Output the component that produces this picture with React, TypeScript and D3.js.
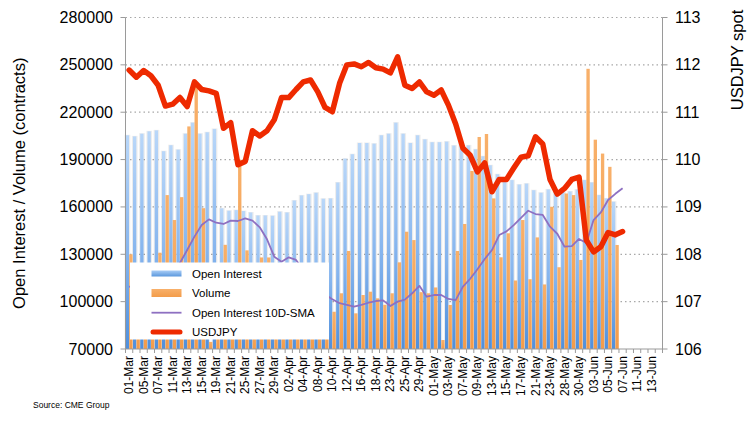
import React from "react";
import * as d3 from "d3";

const categories = [
  "01-Mar","04-Mar","05-Mar","06-Mar","07-Mar","08-Mar","11-Mar","12-Mar","13-Mar","14-Mar","15-Mar","18-Mar","19-Mar","20-Mar","21-Mar","22-Mar","25-Mar","26-Mar","27-Mar","28-Mar","29-Mar",
  "01-Apr","02-Apr","03-Apr","04-Apr","05-Apr","08-Apr","09-Apr","10-Apr","11-Apr","12-Apr","15-Apr","16-Apr","17-Apr","18-Apr","22-Apr","23-Apr","24-Apr","25-Apr","26-Apr","29-Apr","30-Apr",
  "01-May","02-May","03-May","06-May","07-May","08-May","09-May","10-May","13-May","14-May","15-May","16-May","17-May","20-May","21-May","22-May","23-May","24-May","28-May","29-May","30-May","31-May",
  "03-Jun","04-Jun","05-Jun","06-Jun","07-Jun","10-Jun","11-Jun","12-Jun","13-Jun","14-Jun"
];

const openInterest = [
  205400,204700,206400,207900,208500,195300,199100,196300,206400,213400,206400,207300,209400,
  159100,157600,158000,157400,156500,154600,154600,154400,157000,156500,164100,167300,168100,169000,165200,165400,
  175500,190600,193400,200500,200500,200100,205400,206400,213400,206400,200500,205400,202800,201000,201000,201400,198900,201200,
  199000,196500,192100,186400,180700,177400,177000,174200,174800,170600,169000,171100,169500,169500,169800,171000,
  177000,175500,167500,165400,163300
];

const volume = [
  130000,112000,118000,105000,131000,167500,151700,166200,211000,235900,159200,74500,96000,
  136000,112000,190000,132500,88000,128000,128000,104000,96000,110000,102000,90000,116000,99000,94000,
  93600,105300,132100,92600,104200,106300,102100,98000,105300,124900,144300,139000,106000,105300,109000,75700,97900,132100,149200,
  182800,204300,206200,165400,128100,143300,113400,151700,114200,140700,110900,160100,121800,168500,167500,126400,
  247500,202600,193800,185400,135900
];

const oiSma = [
  109500,109000,108500,108000,108500,110000,116000,124500,132700,141200,148500,152100,150000,
  149200,151300,151100,152800,151300,147100,139500,128500,125300,128100,126400,120000,114000,108000,104500,
  101500,99000,98000,96900,98000,99300,100400,100800,97200,100000,101300,105300,110000,103100,104200,104200,101700,101000,109500,
  114500,120500,127000,132700,142200,144500,148500,153000,157600,155500,154900,147500,143000,134800,135200,139700,
  137200,151700,156500,164400,168300,171800
];

const usdjpy = [
  111.89,111.74,111.88,111.77,111.57,111.13,111.17,111.31,111.12,111.64,111.48,111.45,111.40,
  110.66,110.78,109.89,109.96,110.61,110.50,110.61,110.84,111.31,111.31,111.48,111.64,111.68,111.43,111.10,
  111.01,111.61,112.00,112.02,111.96,112.05,111.94,111.91,111.83,112.17,111.57,111.50,111.64,111.43,111.36,111.47,111.15,110.75,110.24,
  110.09,109.74,109.93,109.32,109.58,109.58,109.82,110.05,110.08,110.48,110.33,109.58,109.27,109.39,109.58,109.63,
  108.30,108.05,108.16,108.46,108.41,108.48
];

const leftTicks = [70000, 100000, 130000, 160000, 190000, 220000, 250000, 280000];
const rightTicks = [106, 107, 108, 109, 110, 111, 112, 113];
const legendItems = ["Open Interest", "Volume", "Open Interest 10D-SMA", "USDJPY"];

const FONT = "'Liberation Sans', Arial, sans-serif";

export default function App() {
  const W = 751, H = 421;
  const left = 125.5, right = 662.5, top = 17.5, bottom = 349;

  const x = d3.scaleBand<string>().domain(categories).range([left, right]).padding(0);
  const yL = d3.scaleLinear().domain([70000, 280000]).range([bottom, top]);
  const yR = d3.scaleLinear().domain([106, 113]).range([bottom, top]);
  const bw = x.bandwidth();
  const cx = (i: number) => (x(categories[i]) as number) + bw / 2;
  const barW = bw * 0.46;

  const smaLine = d3.line<number>().x((_, i) => cx(i)).y((d) => yL(d));
  const fxLine = d3.line<number>().x((_, i) => cx(i)).y((d) => yR(d));

  const boundaries = d3.range(categories.length + 1).map((k) => left + k * bw);

  const legX = 130, legY = 262.5, legW = 199, legH = 77;
  const rowY = [273.5, 293, 312.7, 332];

  return (
    <svg width={W} height={H} style={{ position: "absolute", left: 0, top: 0, background: "#fff" }} fontFamily={FONT}>
      <defs>
        <linearGradient id="blueGrad" x1="0" y1="0" x2="0" y2="1">
          <stop offset="0%" stopColor="#b9d7f9" />
          <stop offset="55%" stopColor="#86b5ee" />
          <stop offset="100%" stopColor="#4f8fdc" />
        </linearGradient>
        <linearGradient id="orangeGrad" x1="0" y1="0" x2="0" y2="1">
          <stop offset="0%" stopColor="#f8b06a" />
          <stop offset="100%" stopColor="#f39c4a" />
        </linearGradient>
        <linearGradient id="blueLeg" x1="0" y1="0" x2="0" y2="1">
          <stop offset="0%" stopColor="#a9cdf6" />
          <stop offset="100%" stopColor="#5b98dd" />
        </linearGradient>
      </defs>

      {/* gridlines */}
      {leftTicks.slice(1).map((t) => (
        <line key={"g" + t} x1={left} x2={right} y1={yL(t)} y2={yL(t)} stroke="#a8a8a8" strokeWidth={1.2} strokeDasharray="1.5,3" />
      ))}

      {/* bar shadows */}
      {openInterest.map((v, i) => (
        <rect key={"bs" + i} x={cx(i) - barW - 1.2} y={yL(v) - 0.5} width={barW + 2.4} height={bottom - yL(v) + 0.5} fill="#000" opacity={0.07} />
      ))}
      {/* blue bars */}
      {openInterest.map((v, i) => (
        <rect key={"b" + i} x={cx(i) - barW - 0.1} y={yL(v)} width={barW} height={bottom - yL(v)} fill="url(#blueGrad)" />
      ))}
      {/* orange bars */}
      {volume.map((v, i) => (
        <rect key={"o" + i} x={cx(i) + 0.1} y={yL(v)} width={barW} height={bottom - yL(v)} fill="url(#orangeGrad)" />
      ))}

      {/* lines */}
      <path d={smaLine(oiSma) || ""} fill="none" stroke="#8e70c1" strokeWidth={1.8} strokeLinejoin="round" />
      <path d={fxLine(usdjpy) || ""} fill="none" stroke="#ee2a00" strokeWidth={5.5} strokeLinejoin="round" strokeLinecap="round" />

      {/* axes */}
      <line x1={left} x2={left} y1={top} y2={bottom} stroke="#9a9a9a" strokeWidth={1} />
      <line x1={right} x2={right} y1={top} y2={bottom} stroke="#9a9a9a" strokeWidth={1} />
      <line x1={left} x2={right} y1={bottom} y2={bottom} stroke="#9a9a9a" strokeWidth={1} />
      {boundaries.map((b, k) => (
        <line key={"xt" + k} x1={b} x2={b} y1={bottom} y2={bottom + 4} stroke="#9a9a9a" strokeWidth={1} />
      ))}
      {leftTicks.map((t) => (
        <g key={"lt" + t}>
          <line x1={left - 5} x2={left} y1={yL(t)} y2={yL(t)} stroke="#9a9a9a" />
          <text x={113} y={yL(t)} textAnchor="end" dominantBaseline="central" fontSize={16} fill="#000">{t}</text>
        </g>
      ))}
      {rightTicks.map((t) => (
        <g key={"rt" + t}>
          <line x1={right} x2={right + 5} y1={yR(t)} y2={yR(t)} stroke="#9a9a9a" />
          <text x={675} y={yR(t)} textAnchor="start" dominantBaseline="central" fontSize={16} fill="#000">{t}</text>
        </g>
      ))}

      {/* x labels */}
      {categories.map((c, i) =>
        i % 2 === 0 ? (
          <text key={"xl" + i} transform={`translate(${cx(i)},${bottom + 7}) rotate(-90)`} textAnchor="end" dominantBaseline="central" fontSize={12} fill="#000">{c}</text>
        ) : null
      )}

      {/* axis titles */}
      <text transform={`translate(19,${(top + bottom) / 2}) rotate(-90)`} textAnchor="middle" dominantBaseline="central" fontSize={16.5} fill="#000">Open Interest / Volume (contracts)</text>
      <text transform={`translate(737,60) rotate(-90)`} textAnchor="middle" dominantBaseline="central" fontSize={16.5} fill="#000">USDJPY spot</text>

      {/* source */}
      <text x={33} y={408} fontSize={8.5} fill="#000">Source: CME Group</text>

      {/* legend */}
      <rect x={legX} y={legY} width={legW} height={legH} fill="#fff" />
      <rect x={151.5} y={rowY[0] - 3} width={30} height={6} fill="url(#blueLeg)" />
      <rect x={151.5} y={rowY[1] - 4} width={30} height={8} fill="url(#orangeGrad)" />
      <line x1={151.5} x2={181.5} y1={rowY[2]} y2={rowY[2]} stroke="#8e70c1" strokeWidth={1.8} />
      <line x1={153} x2={180} y1={rowY[3]} y2={rowY[3]} stroke="#ee2a00" strokeWidth={5} strokeLinecap="round" />
      {legendItems.map((t, i) => (
        <text key={"lg" + i} x={192} y={rowY[i]} dominantBaseline="central" fontSize={11.5} fill="#000">{t}</text>
      ))}
    </svg>
  );
}
